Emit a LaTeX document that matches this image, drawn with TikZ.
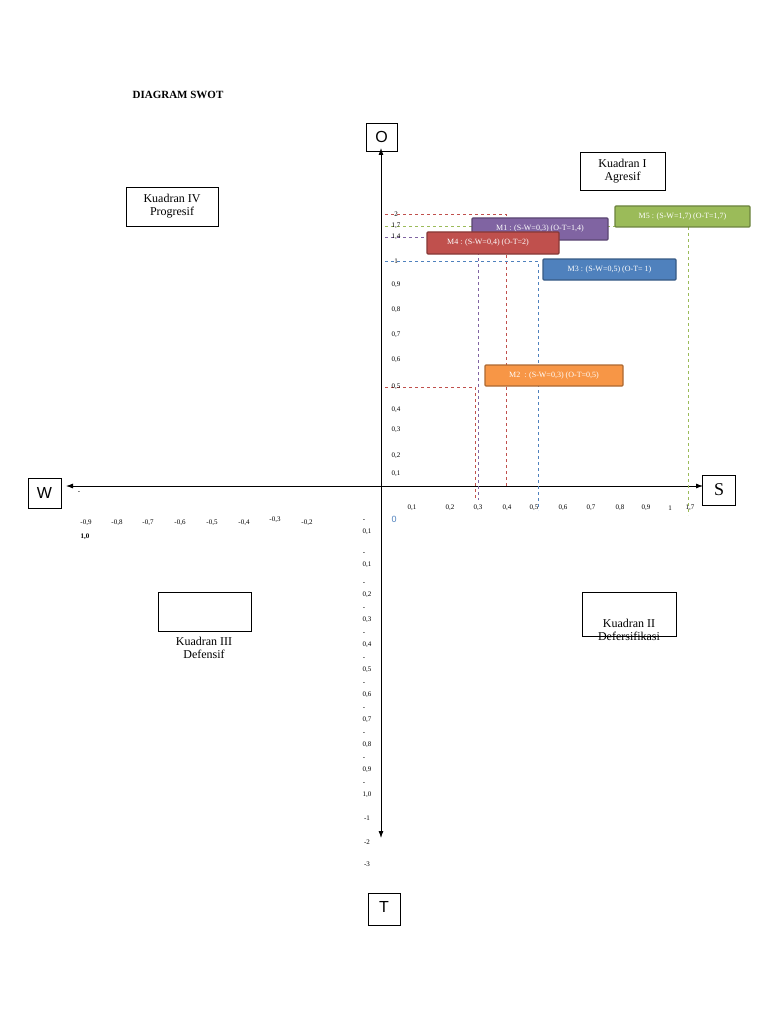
\documentclass[tikz,border=0pt]{standalone}
\usepackage{fontspec}
\usetikzlibrary{arrows.meta}
\setmainfont{Liberation Serif}
\newfontfamily\lsans{Liberation Sans}
\definecolor{cred}{HTML}{C0504D}
\definecolor{cpur}{HTML}{8064A2}
\definecolor{cgrn}{HTML}{9BBB59}
\definecolor{cblu}{HTML}{4F81BD}
\definecolor{corg}{HTML}{F79646}
\begin{document}
\begin{tikzpicture}[x=1pt,y=-1pt,
  lbl/.style={font=\fontsize{7}{8}\selectfont,inner sep=0pt},
  lbox/.style={draw,thick,inner sep=0pt,minimum width=33pt,minimum height=30pt,font=\lsans\fontsize{16}{16}\selectfont},
  qbox/.style={draw,inner sep=0pt,align=center,font=\fontsize{12}{13}\selectfont},
  mbox/.style={draw,line width=1.2pt,rounded corners=1pt,inner sep=0pt,text=white,font=\fontsize{8}{9}\selectfont},
  ax/.style={-{Latex[length=7pt,width=5pt]},line width=0.8pt},
  dl/.style={dashed,line width=0.6pt}]
\useasboundingbox (0,0) rectangle (768,1024);
\node[font=\bfseries\fontsize{11}{12}\selectfont] (title) at (178,95) {DIAGRAM SWOT};
% axes
\coordinate (origin) at (381,486);
\coordinate (top) at (381,148);
\coordinate (bot) at (381,838);
\coordinate (lft) at (66,486);
\coordinate (rgt) at (703,486);
\draw[ax] (origin) -- (top);
\draw[ax] (origin) -- (bot);
\draw[ax] (origin) -- (lft);
\draw[ax] (origin) -- (rgt);
\node[lbox,minimum width=31pt,minimum height=28pt] (O) at (381.5,137) {O};
\node[lbox] (W) at (44.5,493) {W};
\node[lbox,font=\fontsize{18}{18}\selectfont] (S) at (719,490) {\raisebox{-8pt}{S}};
\node[lbox,minimum width=32pt,minimum height=32pt] (T) at (384,909) {\raisebox{4pt}{T}};
% quadrants
\node[qbox,minimum width=85pt,minimum height=38pt] (q1) at (622.5,171) {Kuadran I\\Agresif};
\node[qbox,minimum width=92pt,minimum height=39pt] (q4) at (172,206.5) {Kuadran IV\\Progresif};
\node[qbox,minimum width=93pt,minimum height=39pt] (q3) at (204.5,611.5) {};
\node[align=center,font=\fontsize{12}{13}\selectfont,inner sep=0pt] (q3t) at (204,648) {Kuadran III\\Defensif};
\node[qbox,minimum width=94pt,minimum height=44pt] (q2) at (629,614) {};
\node[align=center,font=\fontsize{12}{13}\selectfont,inner sep=0pt] (q2t) at (629,630) {Kuadran II\\Defersifikasi};
% dashed guides
\coordinate (r2) at (385,214); \coordinate (r2b) at (506,214); \coordinate (r2c) at (506,486);
\draw[dl,cred] (r2) -- (r2b) -- (r2c);
\coordinate (g1) at (385,226); \coordinate (g2) at (615,226); \coordinate (g3) at (688,227); \coordinate (g4) at (688,515);
\draw[dl,cgrn] (g1) -- (g2); \draw[dl,cgrn] (g3) -- (g4);
\coordinate (p1) at (385,237); \coordinate (p2) at (478,237); \coordinate (p3) at (478,500);
\draw[dl,cpur] (p1) -- (p2) -- (p3);
\coordinate (b1) at (385,261); \coordinate (b2) at (538,261); \coordinate (b3) at (538,510);
\draw[dl,cblu] (b1) -- (b2) -- (b3);
\coordinate (o1) at (385,387); \coordinate (o2) at (475,387); \coordinate (o3) at (475,500);
\draw[dl,cred] (o1) -- (o2) -- (o3);
% M boxes
\node[mbox,fill=cpur,draw=cpur!70!black,minimum width=136pt,minimum height=22pt] (M1) at (540,229) {M1 : (S-W=0,3) (O-T=1,4)};
\node[mbox,fill=cred,draw=cred!70!black,minimum width=132pt,minimum height=22pt] (M4) at (493,243) {\hspace*{-10pt}M4 : (S-W=0,4) (O-T=2)};
\node[mbox,fill=cgrn,draw=cgrn!70!black,minimum width=135pt,minimum height=21pt] (M5) at (682.5,216.5) {M5 : (S-W=1,7) (O-T=1,7)};
\node[mbox,fill=cblu,draw=cblu!70!black,minimum width=133pt,minimum height=21pt] (M3) at (609.5,269.5) {M3 : (S-W=0,5) (O-T= 1)};
\node[mbox,fill=corg,draw=corg!70!black,minimum width=138pt,minimum height=21pt] (M2) at (554,375.5) {M2 \ : (S-W=0,3) (O-T=0,5)};
% y labels
\foreach \t/\y [count=\i] in {{2}/214,{1,7}/226,{1,4}/237,{1}/261,{0,9}/285,{0,8}/310,{0,7}/335,{0,6}/360,{0,5}/387,{0,4}/410,{0,3}/430,{0,2}/456,{0,1}/474}
  \node[lbl] (ly\i) at (396,\y) {\t};
% x labels
\foreach \t/\x [count=\i] in {{0,1}/412,{0,2}/450,{0,3}/478,{0,4}/507,{0,5}/534,{0,6}/563,{0,7}/591,{0,8}/620,{0,9}/646,{1}/670,{1,7}/690}
  \node[lbl] (lx\i) at (\x,508) {\t};
\node[lbl,text=cblu,font=\lsans\fontsize{9}{9}\selectfont] (zero) at (394,519) {0};
% negative x
\foreach \t/\x [count=\i] in {{-0,9}/86,{-0,8}/117,{-0,7}/148,{-0,6}/180,{-0,5}/212,{-0,4}/244,{-0,2}/307}
  \node[lbl] (nx\i) at (\x,523) {\t};
\node[lbl] (nx8) at (275,520) {-0,3};
\node[lbl,font=\bfseries\fontsize{7}{8}\selectfont] (ten) at (85,537) {1,0};
\node[lbl] (dash) at (79,493) {-};
% negative y
\foreach \t/\y [count=\i] in {{0,1}/532,{0,1}/565,{0,2}/595,{0,3}/620,{0,4}/645,{0,5}/670,{0,6}/695,{0,7}/720,{0,8}/745,{0,9}/770,{1,0}/795}{
  \node[lbl] (ny\i) at (367,\y) {\t};
  \node[lbl] (nd\i) at (364,\y-11) {-};}
\node[lbl] (m1) at (367,818) {-1};
\node[lbl] (m2) at (367,842) {-2};
\node[lbl] (m3) at (367,864) {-3};
\end{tikzpicture}
\end{document}
